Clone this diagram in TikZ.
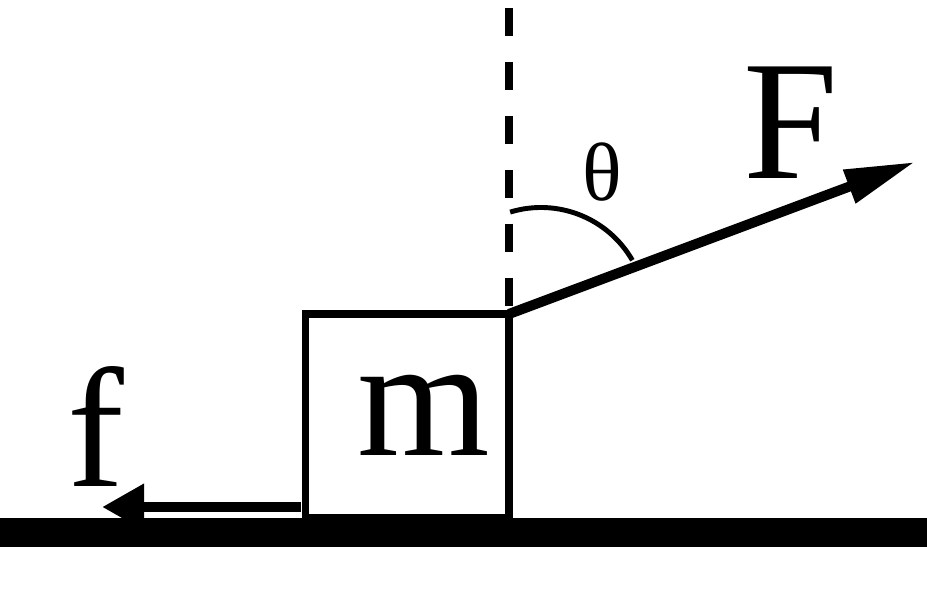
\documentclass[tikz,border=0pt]{standalone}
\usepackage{fontspec}
\setmainfont{Liberation Serif}
\usetikzlibrary{arrows.meta}
\tikzset{letter/.style={inner sep=0pt, anchor=base, font=\fontsize{97}{100}\selectfont},
  angleletter/.style={inner sep=0pt, anchor=base, font=\fontsize{47}{50}\selectfont}}

\begin{document}
\begin{tikzpicture}[x=0.02cm,y=0.02cm]
\useasboundingbox (0,0) rectangle (927,594);
\coordinate (corner) at (509,280);
\coordinate (top) at (509,586);
\coordinate (Ftip) at (915,432);
\coordinate (fstart) at (301,87);
\coordinate (ftip) at (102,87);
% ground and block
\fill (0,47) rectangle (927,76);
\draw[line width=4pt] (509,76)--(305.5,76)--(305.5,280)--(corner)--cycle;
\draw[line width=4.5pt, dash pattern=on 15.9pt off 14.8pt] (top)--(corner);
\draw[line width=2.8pt] (541,281) ++(107:105.5) arc (107:30:105.5);
% forces
\draw[line width=5.7pt, -{Triangle[length=40pt,width=19pt]}] (corner)--(Ftip);
\draw[line width=6.2pt, -{Triangle[length=24pt,width=25pt]}] (fstart)--(ftip);
\node[letter] (F) at (791,415) {F};
\node[letter] (m) at (424,138) {m};
\node[letter] (f) at (96,107) {f};
\node[angleletter] (theta) at (602,393) {θ};
\end{tikzpicture}
\end{document}
